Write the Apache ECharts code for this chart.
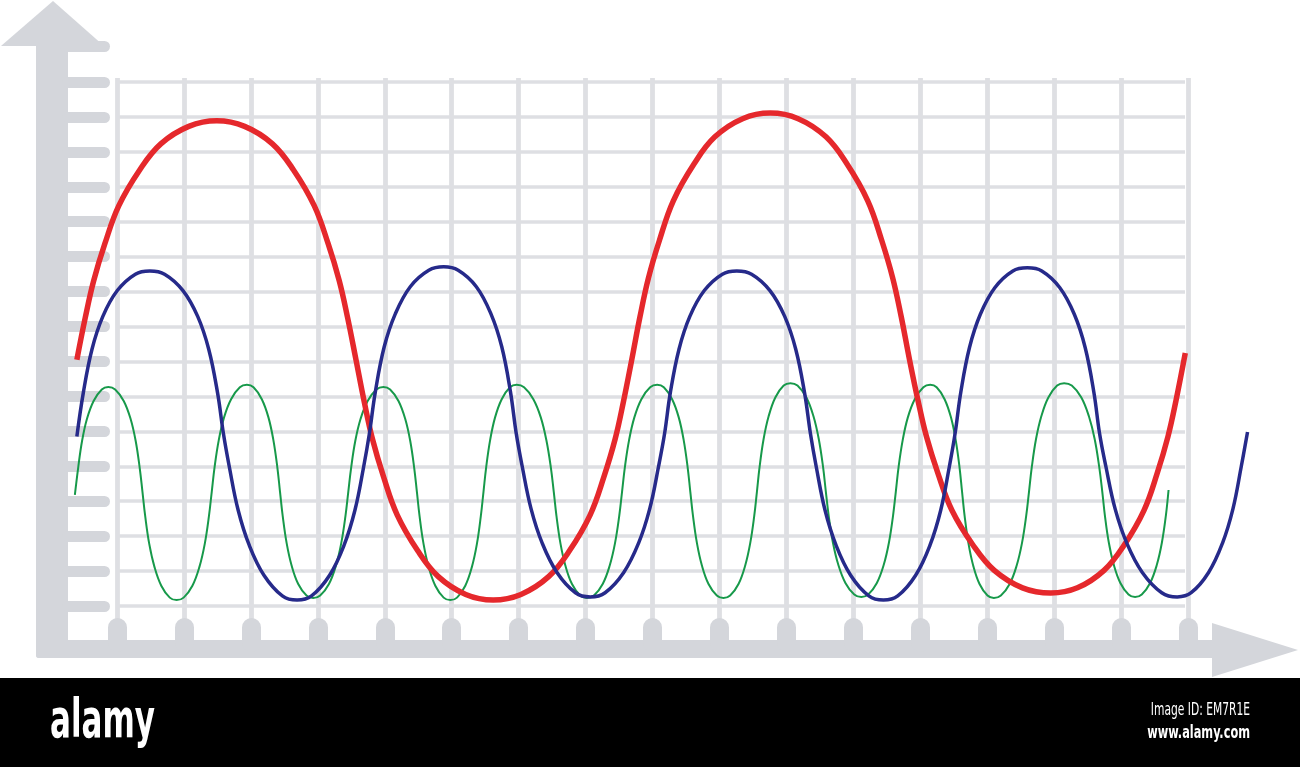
<!DOCTYPE html>
<html><head><meta charset="utf-8">
<script src="https://cdn.jsdelivr.net/npm/echarts@6/dist/echarts.min.js"></script>
<style>html,body{margin:0;padding:0;background:#fff;overflow:hidden}#c{width:1300px;height:767px}</style>
</head><body><div id="c"></div>
<script>
// Values: x in grid columns, y in grid rows
const redWave = [
 [-0.60,7.05],[-0.475,8.25],[-0.349,9.31],[-0.182,10.37],[0.027,11.46],[0.341,12.49],[0.654,13.23],[1.072,13.73],[1.49,13.89],
 [1.906,13.73],[2.322,13.23],[2.634,12.49],[2.946,11.46],[3.154,10.37],[3.320,9.31],[3.445,8.25],[3.57,7.05],
 [3.693,5.85],[3.816,4.78],[3.98,3.71],[4.185,2.61],[4.493,1.58],[4.80,0.84],[5.21,0.33],[5.62,0.17],
 [6.034,0.33],[6.448,0.84],[6.759,1.58],[7.069,2.61],[7.276,3.71],[7.442,4.78],[7.566,5.85],[7.69,7.05],
 [7.814,8.29],[7.938,9.38],[8.104,10.47],[8.311,11.60],[8.622,12.66],[8.932,13.43],[9.346,13.95],[9.76,14.11],
 [10.176,13.95],[10.592,13.43],[10.904,12.66],[11.216,11.60],[11.424,10.47],[11.590,9.38],[11.715,8.29],[11.84,7.05],
 [11.967,5.88],[12.093,4.85],[12.262,3.81],[12.473,2.74],[12.79,1.74],[13.106,1.02],[13.528,0.52],[13.95,0.37],
 [14.348,0.52],[14.746,1.02],[15.045,1.74],[15.343,2.74],[15.542,3.81],[15.701,4.85],[15.821,5.88],[15.96,7.24]
];
const blueWave = [
 [-0.60,4.85],[-0.504,6.10],[-0.374,7.35],[-0.212,8.29],[0.004,9.03],[0.274,9.50],[0.49,9.59],
 [0.71,9.50],[0.985,9.03],[1.205,8.29],[1.37,7.35],[1.502,6.10],[1.59,4.93],
 [1.678,3.98],[1.81,2.74],[1.975,1.74],[2.195,0.88],[2.47,0.29],[2.69,0.17],
 [2.906,0.29],[3.176,0.88],[3.392,1.74],[3.554,2.74],[3.684,3.98],[3.77,4.93],
 [3.859,6.13],[3.992,7.42],[4.159,8.37],[4.381,9.14],[4.658,9.61],[4.88,9.71],
 [5.097,9.61],[5.368,9.14],[5.585,8.37],[5.748,7.42],[5.878,6.13],[5.965,4.93],
 [6.053,4.00],[6.186,2.78],[6.352,1.80],[6.573,0.96],[6.849,0.38],[7.07,0.26],
 [7.292,0.38],[7.570,0.96],[7.792,1.80],[7.958,2.78],[8.091,4.00],[8.18,4.93],
 [8.266,6.10],[8.396,7.35],[8.558,8.29],[8.774,9.03],[9.044,9.50],[9.26,9.59],
 [9.48,9.50],[9.755,9.03],[9.975,8.29],[10.14,7.35],[10.272,6.10],[10.36,4.93],
 [10.447,3.98],[10.578,2.74],[10.742,1.74],[10.96,0.88],[11.232,0.29],[11.45,0.17],
 [11.664,0.29],[11.932,0.88],[12.146,1.74],[12.306,2.74],[12.434,3.98],[12.52,4.93],
 [12.606,6.12],[12.736,7.40],[12.898,8.35],[13.114,9.11],[13.384,9.59],[13.60,9.68],
 [13.816,9.59],[14.086,9.11],[14.302,8.35],[14.464,7.40],[14.594,6.12],[14.68,4.93],
 [14.773,4.00],[14.912,2.78],[15.086,1.80],[15.318,0.96],[15.608,0.38],[15.84,0.26],
 [16.048,0.38],[16.308,0.96],[16.516,1.80],[16.672,2.78],[16.797,4.00],[16.89,4.98]
];
const greenWave = [
 [-0.63,3.18],[-0.581,3.95],[-0.522,4.73],[-0.449,5.36],[-0.350,5.87],[-0.228,6.20],[-0.13,6.27],
 [-0.028,6.20],[0.100,5.87],[0.202,5.36],[0.278,4.73],[0.339,3.95],[0.38,3.27],[0.421,2.57],[0.482,1.77],[0.559,1.12],[0.661,0.58],[0.788,0.24],[0.89,0.17],
 [0.995,0.24],[1.126,0.58],[1.231,1.12],[1.310,1.77],[1.373,2.57],[1.415,3.27],[1.457,3.97],[1.520,4.75],[1.599,5.40],[1.704,5.92],[1.835,6.26],[1.94,6.33],
 [2.039,6.26],[2.163,5.92],[2.262,5.40],[2.336,4.75],[2.395,3.97],[2.435,3.27],[2.475,2.58],[2.534,1.80],[2.608,1.16],[2.707,0.63],[2.831,0.30],[2.93,0.23],
 [3.035,0.30],[3.166,0.63],[3.271,1.16],[3.350,1.80],[3.413,2.58],[3.455,3.27],[3.497,3.95],[3.560,4.73],[3.639,5.36],[3.744,5.87],[3.875,6.20],[3.98,6.27],
 [4.08,6.20],[4.205,5.87],[4.305,5.36],[4.38,4.73],[4.44,3.95],[4.48,3.27],[4.52,2.57],[4.58,1.77],[4.655,1.12],[4.755,0.58],[4.88,0.24],[4.98,0.17],
 [5.079,0.24],[5.203,0.58],[5.302,1.12],[5.376,1.77],[5.435,2.57],[5.475,3.27],[5.515,3.97],[5.574,4.75],[5.648,5.40],[5.747,5.92],[5.871,6.26],[5.97,6.33],
 [6.081,6.26],[6.220,5.92],[6.331,5.40],[6.414,4.75],[6.481,3.97],[6.525,3.27],[6.565,2.58],[6.624,1.80],[6.698,1.16],[6.797,0.63],[6.921,0.30],[7.02,0.23],
 [7.125,0.30],[7.256,0.63],[7.361,1.16],[7.44,1.80],[7.503,2.58],[7.545,3.27],[7.587,3.97],[7.65,4.75],[7.729,5.40],[7.834,5.92],[7.965,6.26],[8.07,6.33],
 [8.169,6.26],[8.293,5.92],[8.392,5.40],[8.466,4.75],[8.525,3.97],[8.565,3.27],[8.605,2.58],[8.664,1.80],[8.738,1.16],[8.837,0.63],[8.961,0.30],[9.06,0.23],
 [9.16,0.30],[9.285,0.63],[9.385,1.16],[9.46,1.80],[9.52,2.58],[9.56,3.27],[9.60,3.98],[9.66,4.78],[9.735,5.43],[9.835,5.97],[9.96,6.31],[10.06,6.38],
 [10.166,6.31],[10.299,5.97],[10.405,5.43],[10.484,4.78],[10.548,3.98],[10.59,3.27],[10.632,2.59],[10.696,1.81],[10.776,1.18],[10.882,0.66],[11.014,0.33],[11.12,0.26],
 [11.223,0.33],[11.352,0.66],[11.455,1.18],[11.532,1.81],[11.594,2.59],[11.635,3.27],[11.676,3.97],[11.738,4.75],[11.815,5.40],[11.918,5.92],[12.047,6.26],[12.15,6.33],
 [12.245,6.26],[12.364,5.92],[12.459,5.40],[12.53,4.75],[12.587,3.97],[12.625,3.27],[12.663,2.58],[12.72,1.80],[12.791,1.16],[12.886,0.63],[13.005,0.30],[13.10,0.23],
 [13.205,0.30],[13.336,0.63],[13.441,1.16],[13.52,1.80],[13.583,2.58],[13.625,3.27],[13.667,3.98],[13.73,4.78],[13.809,5.43],[13.914,5.97],[14.045,6.31],[14.15,6.38],
 [14.264,6.31],[14.407,5.97],[14.52,5.43],[14.606,4.78],[14.674,3.98],[14.72,3.27],[14.759,2.59],[14.818,1.81],[14.892,1.18],[14.99,0.66],[15.112,0.33],[15.21,0.26],
 [15.31,0.33],[15.435,0.66],[15.535,1.18],[15.61,1.81],[15.67,2.59],[15.71,3.32]
];
const xRange = [0, 16];   // grid columns
const yRange = [0, 15];   // grid rows
const brandText = 'alamy';
const imageIdText = 'Image ID: EM7R1E';
const siteText = 'www.alamy.com';

const AX = '#d4d6db';
const GRIDC = '#dedfe3';
const FONT = '"Liberation Sans Narrow","DejaVu Sans Condensed","Liberation Sans",sans-serif';
const chart = echarts.init(document.getElementById('c'), null, {renderer: 'canvas'});

chart.setOption({
  animation: false,
  backgroundColor: '#ffffff',
  grid: [
    {left: 50.1, right: 45.1, top: 82, bottom: 161},
    {left: 117, right: 112, top: 78, bottom: 147},
    {left: 117, right: 115, top: 82, bottom: 161}
  ],
  xAxis: [
    {gridIndex: 0, type: 'value', min: xRange[0] - 1, max: xRange[1] + 1, show: false},
    {gridIndex: 1, type: 'value', min: xRange[0], max: xRange[1], interval: 1, offset: 7.5,
     axisLine: {show: false, onZero: false}, axisLabel: {show: false},
     axisTick: {show: true, length: 15, lineStyle: {color: AX, width: 19, cap: 'round'}},
     splitLine: {show: true, lineStyle: {color: GRIDC, width: 4.8}}},
    {gridIndex: 2, type: 'value', min: xRange[0], max: xRange[1], show: false}
  ],
  yAxis: [
    {gridIndex: 0, type: 'value', min: yRange[0], max: yRange[1], show: false},
    {gridIndex: 1, type: 'value', min: 0, max: 1, show: false},
    {gridIndex: 2, type: 'value', min: yRange[0], max: yRange[1], interval: 1, offset: 12.5,
     axisLine: {show: false, onZero: false}, axisLabel: {show: false},
     axisTick: {show: true, length: 36.5, lineStyle: {color: AX, width: 11, cap: 'round'}},
     splitLine: {show: true, lineStyle: {color: GRIDC, width: 3.5}}}
  ],
  series: [
    {type: 'line', name: 'green', data: greenWave, xAxisIndex: 0, yAxisIndex: 0, smooth: 0.4,
     showSymbol: false, z: 3, lineStyle: {color: '#17994a', width: 2}},
    {type: 'line', name: 'red', data: redWave, xAxisIndex: 0, yAxisIndex: 0, smooth: 0.4,
     showSymbol: false, z: 4, lineStyle: {color: '#e5282c', width: 5.5}},
    {type: 'line', name: 'blue', data: blueWave, xAxisIndex: 0, yAxisIndex: 0, smooth: 0.4,
     showSymbol: false, z: 5, lineStyle: {color: '#262a8a', width: 3.5}}
  ],
  graphic: [
    {type: 'rect', z: -1, shape: {x: 36, y: 44, width: 32, height: 614, r: [0, 0, 0, 3]}, style: {fill: AX}},
    {type: 'polygon', z: -1, shape: {points: [[1, 46], [53, 1], [104, 46]]}, style: {fill: AX}},
    {type: 'rect', z: -1, shape: {x: 60, y: 41, width: 50, height: 11, r: 5.5}, style: {fill: AX}},
    {type: 'rect', z: -1, shape: {x: 36, y: 640, width: 1182, height: 18, r: [0, 0, 0, 3]}, style: {fill: AX}},
    {type: 'polygon', z: -1, shape: {points: [[1212, 623], [1298, 650], [1212, 677]]}, style: {fill: AX}},
    {type: 'rect', z: 100, shape: {x: 0, y: 678, width: 1300, height: 89}, style: {fill: '#000'}},
    {type: 'text', z: 101, x: 50, y: 723, scaleX: 0.65, style: {text: brandText, fill: '#fff',
      fontSize: 53, fontWeight: 'bold', fontFamily: FONT, textVerticalAlign: 'middle'}},
    {type: 'text', z: 101, x: 1250, y: 711, scaleX: 0.7, style: {text: imageIdText, fill: '#fff', textAlign: 'right',
      fontSize: 17, fontFamily: FONT, textVerticalAlign: 'middle'}},
    {type: 'text', z: 101, x: 1250, y: 733, scaleX: 0.7, style: {text: siteText, fill: '#fff', textAlign: 'right',
      fontSize: 18, fontWeight: 'bold', fontFamily: FONT, textVerticalAlign: 'middle'}}
  ]
});
</script></body></html>
